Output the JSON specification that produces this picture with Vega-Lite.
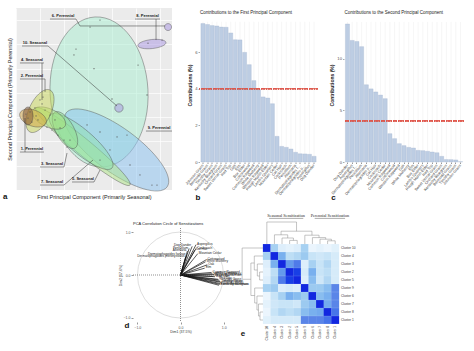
{
  "$schema": "https://vega.github.io/schema/vega-lite/v6.json",
  "padding": {"left": 3, "top": 8, "right": 0, "bottom": 0},
  "background": "white",
  "config": {
    "font": "Liberation Sans",
    "view": {"stroke": null},
    "axis": {"labelFont": "Liberation Sans", "titleFont": "Liberation Sans"},
    "title": {"font": "Liberation Sans"},
    "text": {"font": "Liberation Sans"}
  },
  "datasets": {
    "ellipses": [
      {"group": "6", "pc1": 2.92, "pc2": 2.08},
      {"group": "9", "pc1": 4.38, "pc2": -2.70},
      {"group": "7", "pc1": 1.58, "pc2": -2.42},
      {"group": "5", "pc1": 1.42, "pc2": -2.00},
      {"group": "3", "pc1": 0.08, "pc2": -1.06},
      {"group": "4", "pc1": -1.25, "pc2": -0.07},
      {"group": "2", "pc1": -2.00, "pc2": 0.51},
      {"group": "1", "pc1": -2.58, "pc2": -0.07},
      {"group": "1b", "pc1": -3.00, "pc2": 0.10},
      {"group": "8", "pc1": 7.33, "pc2": 6.03},
      {"group": "8b", "pc1": 8.67, "pc2": 7.43},
      {"group": "10", "pc1": 4.58, "pc2": 0.76}
    ],
    "obs": [
      {"pc1": 3.0, "pc2": 8.01}, {"pc1": 2.17, "pc2": 7.43}, {"pc1": 1.0, "pc2": 5.62}, {"pc1": 0.83, "pc2": 5.13},
      {"pc1": 6.17, "pc2": 4.30}, {"pc1": 6.92, "pc2": 1.83}, {"pc1": 4.42, "pc2": -1.63}, {"pc1": 5.25, "pc2": -1.47},
      {"pc1": 1.92, "pc2": -0.64}, {"pc1": 3.0, "pc2": -1.22}, {"pc1": 6.33, "pc2": -4.76}, {"pc1": 7.33, "pc2": -5.59},
      {"pc1": 7.75, "pc2": -5.59}, {"pc1": 8.17, "pc2": 6.36}, {"pc1": 3.0, "pc2": -3.53}, {"pc1": 0.5, "pc2": -1.88},
      {"pc1": 0.25, "pc2": -2.46}, {"pc1": 5.5, "pc2": -3.94}, {"pc1": 3.83, "pc2": -2.70}, {"pc1": -2.83, "pc2": 0.43},
      {"pc1": -2.42, "pc2": 0.76}, {"pc1": -2.0, "pc2": 1.42}, {"pc1": -1.83, "pc2": 1.09}, {"pc1": -1.58, "pc2": 0.59},
      {"pc1": -1.17, "pc2": 0.18}, {"pc1": -2.17, "pc2": -0.23}, {"pc1": -0.75, "pc2": -0.23}, {"pc1": -3.0, "pc2": -0.07},
      {"pc1": -2.67, "pc2": -0.40}, {"pc1": -1.42, "pc2": -0.81}, {"pc1": -0.33, "pc2": -0.89}, {"pc1": -1.0, "pc2": -1.06},
      {"pc1": -1.75, "pc2": 1.66}, {"pc1": -3.17, "pc2": 0.26}, {"pc1": -2.33, "pc2": 0.10}, {"pc1": -0.5, "pc2": -1.47},
      {"pc1": 0.0, "pc2": -1.88}, {"pc1": 7.0, "pc2": 6.1}, {"pc1": 2.5, "pc2": 4.0}, {"pc1": 4.0, "pc2": 1.5}
    ],
    "leaders": [
      {"ax": -1.17, "ay": 8.09, "bx": 1.0, "by": 8.09}, {"ax": 1.0, "ay": 8.09, "bx": 1.33, "by": 7.52}, {"ax": 1.33, "ay": 7.52, "bx": 8.42, "by": 7.52},
      {"ax": 5.92, "ay": 8.09, "bx": 8.0, "by": 8.09}, {"ax": 7.67, "ay": 8.09, "bx": 7.67, "by": 6.36},
      {"ax": -3.5, "ay": 5.87, "bx": -1.33, "by": 5.87}, {"ax": -1.33, "ay": 5.87, "bx": 4.42, "by": 0.92},
      {"ax": -3.67, "ay": 4.47, "bx": -1.67, "by": 4.47}, {"ax": -1.83, "ay": 4.47, "bx": -1.83, "by": 1.42},
      {"ax": -3.67, "ay": 3.15, "bx": -1.58, "by": 3.15}, {"ax": -1.58, "ay": 3.15, "bx": -1.58, "by": 2.08},
      {"ax": 6.83, "ay": -1.14, "bx": 9.0, "by": -1.14},
      {"ax": -3.67, "ay": -2.87, "bx": -1.67, "by": -2.87}, {"ax": -3.25, "ay": -2.87, "bx": -3.25, "by": -0.07},
      {"ax": -2.0, "ay": -4.10, "bx": 0.0, "by": -4.10}, {"ax": 0.0, "ay": -4.10, "bx": 0.25, "by": -2.95},
      {"ax": -2.0, "ay": -5.59, "bx": 0.0, "by": -5.59}, {"ax": 0.0, "ay": -5.59, "bx": 2.42, "by": -3.53},
      {"ax": 0.67, "ay": -5.34, "bx": 2.5, "by": -5.34}, {"ax": 2.5, "ay": -5.34, "bx": 3.0, "by": -4.35}
    ],
    "clusterLabels": [
      {"label": "6. Perennial", "lx": -0.08, "ly": 8.34},
      {"label": "8. Perennial", "lx": 6.96, "ly": 8.34},
      {"label": "10. Seasonal", "lx": -2.42, "ly": 6.12},
      {"label": "4. Seasonal", "lx": -2.67, "ly": 4.71},
      {"label": "2. Perennial", "lx": -2.67, "ly": 3.40},
      {"label": "9. Perennial", "lx": 7.92, "ly": -0.89},
      {"label": "1. Perennial", "lx": -2.67, "ly": -2.62},
      {"label": "3. Seasonal", "lx": -1.0, "ly": -3.86},
      {"label": "7. Seasonal", "lx": -1.0, "ly": -5.34},
      {"label": "5. Seasonal", "lx": 1.58, "ly": -5.09}
    ],
    "contrib": [
      {"allergen": "Johnson Grass", "pc1": 7.55, "pc2": 0.03, "d1": 0.93, "d2": -0.17},
      {"allergen": "Bermuda Grass", "pc1": 7.50, "pc2": 0.23, "d1": 0.92, "d2": -0.20},
      {"allergen": "Timothy Grass", "pc1": 7.44, "pc2": 0.20, "d1": 0.92, "d2": -0.15},
      {"allergen": "Kentucky Bluegrass", "pc1": 7.42, "pc2": 0.24, "d1": 0.91, "d2": -0.22},
      {"allergen": "Orchard Grass", "pc1": 7.36, "pc2": 0.55, "d1": 0.90, "d2": -0.12},
      {"allergen": "Sweet Vernal Grass", "pc1": 7.35, "pc2": 0.90, "d1": 0.89, "d2": -0.24},
      {"allergen": "Red Top", "pc1": 7.04, "pc2": 0.97, "d1": 0.87, "d2": -0.10},
      {"allergen": "Oak", "pc1": 6.67, "pc2": 1.59, "d1": 0.62, "d2": 0.24},
      {"allergen": "Elm", "pc1": 6.66, "pc2": 1.36, "d1": 0.56, "d2": 0.16},
      {"allergen": "Box Elder", "pc1": 5.98, "pc2": 1.13, "d1": 0.80, "d2": -0.04},
      {"allergen": "Cottonwood", "pc1": 5.31, "pc2": 2.27, "d1": 0.60, "d2": 0.36},
      {"allergen": "Common Ragweed", "pc1": 4.44, "pc2": 2.75, "d1": 0.72, "d2": 0.06},
      {"allergen": "White Mulberry", "pc1": 3.95, "pc2": 1.42, "d1": 0.58, "d2": 0.31},
      {"allergen": "Western Ragweed", "pc1": 3.55, "pc2": 1.78, "d1": 0.78, "d2": 0.01},
      {"allergen": "Rough Marsh Elder", "pc1": 3.49, "pc2": 1.04, "d1": 0.76, "d2": -0.03},
      {"allergen": "Lamb's Quarters", "pc1": 3.18, "pc2": 1.10, "d1": 0.74, "d2": 0.03},
      {"allergen": "Mountain Cedar", "pc1": 1.40, "pc2": 6.15, "d1": 0.40, "d2": 0.50},
      {"allergen": "Cat Hair", "pc1": 0.85, "pc2": 6.80, "d1": 0.33, "d2": 0.58},
      {"allergen": "Cockroach", "pc1": 0.80, "pc2": 6.50, "d1": 0.36, "d2": 0.62},
      {"allergen": "Penicillium", "pc1": 0.71, "pc2": 11.20, "d1": 0.20, "d2": 0.62},
      {"allergen": "Alternaria", "pc1": 0.53, "pc2": 7.50, "d1": 0.16, "d2": 0.56},
      {"allergen": "Dermatophagoides farinae", "pc1": 0.45, "pc2": 11.70, "d1": 0.14, "d2": 0.47},
      {"allergen": "Dermatophagoides pteronyssinus", "pc1": 0.44, "pc2": 7.10, "d1": 0.12, "d2": 0.42},
      {"allergen": "Aspergillus", "pc1": 0.42, "pc2": 11.80, "d1": 0.36, "d2": 0.71},
      {"allergen": "Dog Dander", "pc1": 0.31, "pc2": 13.40, "d1": 0.27, "d2": 0.67}
    ],
    "clusters": [
      {"name": "Cluster 10", "k": 0}, {"name": "Cluster 4", "k": 1}, {"name": "Cluster 3", "k": 2},
      {"name": "Cluster 2", "k": 3}, {"name": "Cluster 5", "k": 4}, {"name": "Cluster 9", "k": 5},
      {"name": "Cluster 6", "k": 6}, {"name": "Cluster 7", "k": 7}, {"name": "Cluster 8", "k": 8},
      {"name": "Cluster 1", "k": 9}
    ],
    "dendro": [
      {"p1": 3, "h1": -0.5, "p2": 3, "h2": -0.95}, {"p1": 4, "h1": -0.5, "p2": 4, "h2": -0.95}, {"p1": 3, "h1": -0.95, "p2": 4, "h2": -0.95},
      {"p1": 2, "h1": -0.5, "p2": 2, "h2": -1.25}, {"p1": 3.5, "h1": -0.95, "p2": 3.5, "h2": -1.25}, {"p1": 2, "h1": -1.25, "p2": 3.5, "h2": -1.25},
      {"p1": 1, "h1": -0.5, "p2": 1, "h2": -1.65}, {"p1": 2.75, "h1": -1.25, "p2": 2.75, "h2": -1.65}, {"p1": 1, "h1": -1.65, "p2": 2.75, "h2": -1.65},
      {"p1": 8, "h1": -0.5, "p2": 8, "h2": -0.9}, {"p1": 9, "h1": -0.5, "p2": 9, "h2": -0.9}, {"p1": 8, "h1": -0.9, "p2": 9, "h2": -0.9},
      {"p1": 7, "h1": -0.5, "p2": 7, "h2": -1.1}, {"p1": 8.5, "h1": -0.9, "p2": 8.5, "h2": -1.1}, {"p1": 7, "h1": -1.1, "p2": 8.5, "h2": -1.1},
      {"p1": 6, "h1": -0.5, "p2": 6, "h2": -1.3}, {"p1": 7.75, "h1": -1.1, "p2": 7.75, "h2": -1.3}, {"p1": 6, "h1": -1.3, "p2": 7.75, "h2": -1.3},
      {"p1": 5, "h1": -0.5, "p2": 5, "h2": -1.6}, {"p1": 6.875, "h1": -1.3, "p2": 6.875, "h2": -1.6}, {"p1": 5, "h1": -1.6, "p2": 6.875, "h2": -1.6},
      {"p1": 1.875, "h1": -1.65, "p2": 1.875, "h2": -2.1}, {"p1": 5.94, "h1": -1.6, "p2": 5.94, "h2": -2.1}, {"p1": 1.875, "h1": -2.1, "p2": 5.94, "h2": -2.1},
      {"p1": 0, "h1": -0.5, "p2": 0, "h2": -3.25}, {"p1": 3.91, "h1": -2.1, "p2": 3.91, "h2": -3.25}, {"p1": 0, "h1": -3.25, "p2": 3.91, "h2": -3.25}
    ],
    "heat": [
      {"i":0,"j":0,"v":1},{"i":0,"j":1,"v":0.45},{"i":0,"j":2,"v":0.15},{"i":0,"j":3,"v":0.1},{"i":0,"j":4,"v":0.15},{"i":0,"j":5,"v":0.45},{"i":0,"j":6,"v":0.05},{"i":0,"j":7,"v":0.1},{"i":0,"j":8,"v":0.05},{"i":0,"j":9,"v":0.12},
      {"i":1,"j":0,"v":0.45},{"i":1,"j":1,"v":1},{"i":1,"j":2,"v":0.6},{"i":1,"j":3,"v":0.35},{"i":1,"j":4,"v":0.4},{"i":1,"j":5,"v":0.5},{"i":1,"j":6,"v":0.3},{"i":1,"j":7,"v":0.25},{"i":1,"j":8,"v":0.3},{"i":1,"j":9,"v":0.2},
      {"i":2,"j":0,"v":0.15},{"i":2,"j":1,"v":0.6},{"i":2,"j":2,"v":1},{"i":2,"j":3,"v":0.68},{"i":2,"j":4,"v":0.78},{"i":2,"j":5,"v":0.15},{"i":2,"j":6,"v":0.45},{"i":2,"j":7,"v":0.3},{"i":2,"j":8,"v":0.4},{"i":2,"j":9,"v":0.2},
      {"i":3,"j":0,"v":0.1},{"i":3,"j":1,"v":0.35},{"i":3,"j":2,"v":0.68},{"i":3,"j":3,"v":1},{"i":3,"j":4,"v":0.95},{"i":3,"j":5,"v":0.2},{"i":3,"j":6,"v":0.6},{"i":3,"j":7,"v":0.3},{"i":3,"j":8,"v":0.35},{"i":3,"j":9,"v":0.2},
      {"i":4,"j":0,"v":0.15},{"i":4,"j":1,"v":0.4},{"i":4,"j":2,"v":0.78},{"i":4,"j":3,"v":0.95},{"i":4,"j":4,"v":1},{"i":4,"j":5,"v":0.15},{"i":4,"j":6,"v":0.55},{"i":4,"j":7,"v":0.25},{"i":4,"j":8,"v":0.4},{"i":4,"j":9,"v":0.2},
      {"i":5,"j":0,"v":0.45},{"i":5,"j":1,"v":0.5},{"i":5,"j":2,"v":0.15},{"i":5,"j":3,"v":0.2},{"i":5,"j":4,"v":0.15},{"i":5,"j":5,"v":1},{"i":5,"j":6,"v":0.5},{"i":5,"j":7,"v":0.5},{"i":5,"j":8,"v":0.55},{"i":5,"j":9,"v":0.75},
      {"i":6,"j":0,"v":0.05},{"i":6,"j":1,"v":0.3},{"i":6,"j":2,"v":0.45},{"i":6,"j":3,"v":0.6},{"i":6,"j":4,"v":0.55},{"i":6,"j":5,"v":0.5},{"i":6,"j":6,"v":1},{"i":6,"j":7,"v":0.55},{"i":6,"j":8,"v":0.6},{"i":6,"j":9,"v":0.75},
      {"i":7,"j":0,"v":0.1},{"i":7,"j":1,"v":0.25},{"i":7,"j":2,"v":0.3},{"i":7,"j":3,"v":0.3},{"i":7,"j":4,"v":0.25},{"i":7,"j":5,"v":0.5},{"i":7,"j":6,"v":0.55},{"i":7,"j":7,"v":1},{"i":7,"j":8,"v":0.62},{"i":7,"j":9,"v":0.75},
      {"i":8,"j":0,"v":0.05},{"i":8,"j":1,"v":0.3},{"i":8,"j":2,"v":0.4},{"i":8,"j":3,"v":0.35},{"i":8,"j":4,"v":0.4},{"i":8,"j":5,"v":0.55},{"i":8,"j":6,"v":0.6},{"i":8,"j":7,"v":0.62},{"i":8,"j":8,"v":1},{"i":8,"j":9,"v":0.8},
      {"i":9,"j":0,"v":0.12},{"i":9,"j":1,"v":0.2},{"i":9,"j":2,"v":0.2},{"i":9,"j":3,"v":0.2},{"i":9,"j":4,"v":0.2},{"i":9,"j":5,"v":0.75},{"i":9,"j":6,"v":0.75},{"i":9,"j":7,"v":0.75},{"i":9,"j":8,"v":0.8},{"i":9,"j":9,"v":1}
    ],
    "sensLabels": [
      {"label": "Seasonal Sensitization", "x": 2.53, "y": -4.0},
      {"label": "Perennial Sensitization", "x": 8.3, "y": -4.0}
    ],
    "sensLines": [
      {"a": 0.3, "b": 4.8, "y": -3.7},
      {"a": 6.3, "b": 10.3, "y": -3.7}
    ]
  },
  "spacing": 12,
  "vconcat": [
    {
      "spacing": 10.5,
      "hconcat": [
        {
          "width": 156,
          "height": 182,
          "view": {"fill": "#ebebeb", "stroke": null},
          "layer": [
            {
              "data": {"name": "ellipses"},
              "mark": {"type": "point", "filled": true, "size": 400, "opacity": 1, "fillOpacity": 0.5, "stroke": "#4a4a4a", "strokeWidth": 0.5, "strokeOpacity": 0.85},
              "encoding": {
                "x": {"field": "pc1", "type": "quantitative", "scale": {"domain": [-4, 9], "nice": false, "zero": false},
                      "axis": {"title": "First Principal Component (Primarily Seasonal)", "labels": false, "ticks": false, "domain": false, "grid": true, "gridColor": "white", "gridWidth": 0.7, "tickCount": 6, "titleFontSize": 5.5, "titleFontWeight": "normal", "titleColor": "#222", "titlePadding": 4}},
                "y": {"field": "pc2", "type": "quantitative", "scale": {"domain": [-6, 9], "nice": false, "zero": false},
                      "axis": {"title": "Second Principal Component (Primarily Perennial)", "labels": false, "ticks": false, "domain": false, "grid": true, "gridColor": "white", "gridWidth": 0.7, "tickCount": 6, "titleFontSize": 5.5, "titleFontWeight": "normal", "titleColor": "#222", "titlePadding": 4}},
                "shape": {"field": "group", "type": "nominal", "legend": null, "scale": {
                  "domain": ["6", "9", "7", "5", "3", "4", "2", "1", "1b", "8", "8b", "10"],
                  "range": [
                    "M0.4,7.5C3.1,7.36,5.11,3.88,4.89,-0.26C4.67,-4.4,2.3,-7.64,-0.4,-7.5C-3.1,-7.36,-5.11,-3.88,-4.89,0.26C-4.67,4.4,-2.3,7.64,0.4,7.5Z",
                    "M5.05,3.7C4.33,4.68,1.49,3.82,-1.3,1.78C-4.09,-0.27,-5.77,-2.72,-5.05,-3.7C-4.33,-4.68,-1.49,-3.82,1.3,-1.78C4.09,0.27,5.77,2.72,5.05,3.7Z",
                    "M4.7,3.85C4.42,4.19,2.09,2.74,-0.51,0.62C-3.1,-1.51,-4.98,-3.51,-4.7,-3.85C-4.42,-4.19,-2.09,-2.74,0.51,-0.62C3.1,1.51,4.98,3.51,4.7,3.85Z",
                    "M3.1,2.65C2.67,3.15,0.93,2.38,-0.78,0.91C-2.49,-0.55,-3.53,-2.15,-3.1,-2.65C-2.67,-3.15,-0.93,-2.38,0.78,-0.91C2.49,0.55,3.53,2.15,3.1,2.65Z",
                    "M1,1.8C0.57,2.04,-0.24,1.43,-0.79,0.44C-1.34,-0.56,-1.44,-1.56,-1,-1.8C-0.57,-2.04,0.24,-1.43,0.79,-0.44C1.34,0.56,1.44,1.56,1,1.8Z",
                    "M1.63,0.76C1.42,1.21,0.52,1.24,-0.38,0.82C-1.28,0.4,-1.84,-0.31,-1.63,-0.76C-1.42,-1.21,-0.52,-1.24,0.38,-0.82C1.28,-0.4,1.84,0.31,1.63,0.76Z",
                    "M1,-2.1C1.55,-1.84,1.54,-0.69,0.99,0.47C0.44,1.63,-0.45,2.36,-1,2.1C-1.55,1.84,-1.54,0.69,-0.99,-0.47C-0.44,-1.63,0.45,-2.36,1,-2.1Z",
                    "M1.31,0.5C1.15,0.91,0.44,1.02,-0.29,0.75C-1.01,0.47,-1.47,-0.09,-1.31,-0.5C-1.15,-0.91,-0.44,-1.02,0.29,-0.75C1.01,-0.47,1.47,0.09,1.31,0.5Z",
                    "M0,0.9C0.28,0.9,0.5,0.5,0.5,0C0.5,-0.5,0.28,-0.9,0,-0.9C-0.28,-0.9,-0.5,-0.5,-0.5,0C-0.5,0.5,-0.28,0.9,0,0.9Z",
                    "M1.4,-0.15C1.43,0.1,0.82,0.36,0.05,0.45C-0.73,0.53,-1.37,0.4,-1.4,0.15C-1.43,-0.1,-0.82,-0.36,-0.05,-0.45C0.73,-0.53,1.37,-0.4,1.4,-0.15Z",
                    "M0.35,0C0.35,0.19,0.19,0.35,0,0.35C-0.19,0.35,-0.35,0.19,-0.35,0C-0.35,-0.19,-0.19,-0.35,0,-0.35C0.19,-0.35,0.35,-0.19,0.35,0Z",
                    "M0.42,0C0.42,0.23,0.23,0.42,0,0.42C-0.23,0.42,-0.42,0.23,-0.42,0C-0.42,-0.23,-0.23,-0.42,0,-0.42C0.23,-0.42,0.42,-0.23,0.42,0Z"
                  ]}},
                "fill": {"field": "group", "type": "nominal", "legend": null, "scale": {
                  "domain": ["6", "9", "7", "5", "3", "4", "2", "1", "1b", "8", "8b", "10"],
                  "range": ["#a7edcf", "#87c1f1", "#ade585", "#8fe1af", "#91dd91", "#a7df7b", "#c8d655", "#d4a440", "#7a5030", "#a793e1", "#a793e1", "#a793e1"]}}
              }
            },
            {
              "data": {"name": "obs"},
              "mark": {"type": "circle", "size": 1.6, "color": "#555", "opacity": 0.9},
              "encoding": {
                "x": {"field": "pc1", "type": "quantitative"},
                "y": {"field": "pc2", "type": "quantitative"}
              }
            },
            {
              "data": {"name": "leaders"},
              "mark": {"type": "rule", "color": "#333", "strokeWidth": 0.5},
              "encoding": {
                "x": {"field": "ax", "type": "quantitative"},
                "y": {"field": "ay", "type": "quantitative"},
                "x2": {"field": "bx"},
                "y2": {"field": "by"}
              }
            },
            {
              "data": {"name": "clusterLabels"},
              "mark": {"type": "text", "fontSize": 4, "fontWeight": "bold", "color": "#222"},
              "encoding": {
                "x": {"field": "lx", "type": "quantitative"},
                "y": {"field": "ly", "type": "quantitative"},
                "text": {"field": "label", "type": "nominal"}
              }
            },
            {
              "data": {"values": [{"t": "a"}]},
              "mark": {"type": "text", "fontSize": 8, "fontWeight": "bold", "align": "left", "color": "#111"},
              "encoding": {
                "x": {"datum": -5.08, "type": "quantitative"},
                "y": {"datum": -6.58, "type": "quantitative"},
                "text": {"field": "t", "type": "nominal"}
              }
            }
          ]
        },
        {
          "width": 118,
          "height": 154,
          "data": {"name": "contrib"},
          "encoding": {
            "x": {"field": "allergen", "type": "nominal",
                  "sort": ["Johnson Grass", "Bermuda Grass", "Timothy Grass", "Kentucky Bluegrass", "Orchard Grass", "Sweet Vernal Grass", "Red Top", "Oak", "Elm", "Box Elder", "Cottonwood", "Common Ragweed", "White Mulberry", "Western Ragweed", "Rough Marsh Elder", "Lamb's Quarters", "Mountain Cedar", "Cat Hair", "Cockroach", "Penicillium", "Alternaria", "Dermatophagoides farinae", "Dermatophagoides pteronyssinus", "Aspergillus", "Dog Dander"],
                  "scale": {"paddingInner": 0.12, "paddingOuter": 0.3},
                  "axis": {"title": null, "labelAngle": -50, "labelFontSize": 3.8, "labelColor": "#444", "labelLimit": 40, "tickSize": 1.5, "tickColor": "#999", "domain": false, "grid": false, "labelPadding": 1}}
          },
          "layer": [
            {
              "mark": {"type": "rule", "color": "#ececec", "strokeWidth": 0.5},
              "encoding": {"y": {"datum": 0, "type": "quantitative"}, "y2": {"datum": 7.65}}
            },
            {
              "mark": {"type": "bar", "fill": "#bdcde3", "stroke": "#9fb2cc", "strokeWidth": 0.3},
              "encoding": {
                "y": {"field": "pc1", "type": "quantitative", "scale": {"domain": [0, 8.4], "nice": false},
                      "axis": {"title": "Contributions (%)", "values": [0, 2, 4, 6], "titleFontSize": 5, "titleFontWeight": "bold", "titleColor": "#222", "titlePadding": 2, "labelFontSize": 4.2, "labelColor": "#555", "labelPadding": 1, "tickSize": 1.5, "tickColor": "#aaa", "domain": false, "gridColor": "#e6e6e6", "gridWidth": 0.5}}
              }
            },
            {
              "mark": {"type": "rule", "color": "#e05a50", "strokeDash": [1.2, 1.2], "strokeWidth": 0.6},
              "encoding": {"x": null, "y": {"datum": 4, "type": "quantitative"}}
            },
            {
              "data": {"values": [{"allergen": "Johnson Grass", "t": "Contributions to the First Principal Component"}]},
              "mark": {"type": "text", "fontSize": 4.5, "color": "#222", "align": "left", "dx": -3},
              "encoding": {"y": {"datum": 8.13, "type": "quantitative"}, "text": {"field": "t", "type": "nominal"}}
            },
            {
              "data": {"values": [{"allergen": "Johnson Grass", "t": "b"}]},
              "mark": {"type": "text", "fontSize": 8, "fontWeight": "bold", "color": "#111", "dx": -5, "dy": 36},
              "encoding": {"y": {"datum": 0, "type": "quantitative"}, "text": {"field": "t", "type": "nominal"}}
            }
          ]
        },
        {
          "width": 120,
          "height": 154,
          "data": {"name": "contrib"},
          "encoding": {
            "x": {"field": "allergen", "type": "nominal",
                  "sort": ["Dog Dander", "Aspergillus", "Dermatophagoides farinae", "Penicillium", "Alternaria", "Dermatophagoides pteronyssinus", "Cat Hair", "Cockroach", "Mountain Cedar", "Common Ragweed", "Cottonwood", "Western Ragweed", "Oak", "White Mulberry", "Elm", "Box Elder", "Lamb's Quarters", "Rough Marsh Elder", "Red Top", "Sweet Vernal Grass", "Orchard Grass", "Kentucky Bluegrass", "Bermuda Grass", "Timothy Grass", "Johnson Grass"],
                  "scale": {"paddingInner": 0.12, "paddingOuter": 0.3},
                  "axis": {"title": null, "labelAngle": -50, "labelFontSize": 3.8, "labelColor": "#444", "labelLimit": 40, "tickSize": 1.5, "tickColor": "#999", "domain": false, "grid": false, "labelPadding": 1}}
          },
          "layer": [
            {
              "mark": {"type": "rule", "color": "#ececec", "strokeWidth": 0.5},
              "encoding": {"y": {"datum": 0, "type": "quantitative"}, "y2": {"datum": 13.6}}
            },
            {
              "mark": {"type": "bar", "fill": "#bdcde3", "stroke": "#9fb2cc", "strokeWidth": 0.3},
              "encoding": {
                "y": {"field": "pc2", "type": "quantitative", "scale": {"domain": [0, 14.95], "nice": false},
                      "axis": {"title": "Contributions (%)", "values": [0, 5, 10], "titleFontSize": 5, "titleFontWeight": "bold", "titleColor": "#222", "titlePadding": 2, "labelFontSize": 4.2, "labelColor": "#555", "labelPadding": 1, "tickSize": 1.5, "tickColor": "#aaa", "domain": false, "gridColor": "#e6e6e6", "gridWidth": 0.5}}
              }
            },
            {
              "mark": {"type": "rule", "color": "#e05a50", "strokeDash": [1.2, 1.2], "strokeWidth": 0.6},
              "encoding": {"x": null, "y": {"datum": 4, "type": "quantitative"}}
            },
            {
              "data": {"values": [{"allergen": "Dog Dander", "t": "Contributions to the Second Principal Component"}]},
              "mark": {"type": "text", "fontSize": 4.5, "color": "#222", "align": "left", "dx": -3},
              "encoding": {"y": {"datum": 14.47, "type": "quantitative"}, "text": {"field": "t", "type": "nominal"}}
            },
            {
              "data": {"values": [{"allergen": "Dog Dander", "t": "c"}]},
              "mark": {"type": "text", "fontSize": 8, "fontWeight": "bold", "color": "#111", "dx": -14, "dy": 36},
              "encoding": {"y": {"datum": 0, "type": "quantitative"}, "text": {"field": "t", "type": "nominal"}}
            }
          ]
        }
      ]
    },
    {
      "spacing": 13,
      "bounds": "flush",
      "hconcat": [
        {
          "width": 104,
          "height": 20,
          "data": {"values": [{"t": ""}]},
          "mark": {"type": "text"},
          "encoding": {"text": {"field": "t", "type": "nominal"}}
        },
        {
          "width": 95,
          "height": 94,
          "title": {"text": "PCA Correlation Circle of Sensitizations", "fontSize": 4, "fontWeight": "normal", "anchor": "start", "frame": "group", "offset": 2, "color": "#222"},
          "data": {"name": "contrib"},
          "layer": [
            {
              "mark": {"type": "rule", "color": "#111", "strokeWidth": 0.7},
              "encoding": {
                "x": {"field": "d1", "type": "quantitative", "scale": {"domain": [-1.1, 1.1], "nice": false, "zero": false},
                      "axis": {"title": "Dim1 (37.5%)", "values": [-1, -0.5, 0, 0.5, 1], "format": ".1f", "labelFontSize": 3.5, "labelColor": "#555", "titleFontSize": 3.5, "titleFontWeight": "normal", "titleColor": "#333", "titlePadding": 1, "labelPadding": 1, "grid": false, "domain": false, "tickSize": 2, "tickColor": "#999"}},
                "y": {"field": "d2", "type": "quantitative", "scale": {"domain": [-1.1, 1.1], "nice": false, "zero": false},
                      "axis": {"title": "Dim2 (17.6%)", "values": [-1, -0.5, 0, 0.5, 1], "format": ".1f", "labelFontSize": 3.5, "labelColor": "#555", "titleFontSize": 3.5, "titleFontWeight": "normal", "titleColor": "#333", "titlePadding": 1, "labelPadding": 1, "grid": false, "domain": false, "tickSize": 2, "tickColor": "#999"}},
                "x2": {"datum": 0},
                "y2": {"datum": 0}
              }
            },
            {
              "transform": [{"filter": "datum.d1 < 0.3 && datum.d2 > 0.4"}],
              "mark": {"type": "text", "fontSize": 3.2, "color": "#222", "align": "right", "dx": -1, "dy": -1},
              "encoding": {
                "x": {"field": "d1", "type": "quantitative"},
                "y": {"field": "d2", "type": "quantitative"},
                "text": {"field": "allergen", "type": "nominal"}
              }
            },
            {
              "transform": [{"filter": "!(datum.d1 < 0.3 && datum.d2 > 0.4)"}],
              "mark": {"type": "text", "fontSize": 3.2, "color": "#222", "align": "left", "dx": 1, "dy": -1},
              "encoding": {
                "x": {"field": "d1", "type": "quantitative"},
                "y": {"field": "d2", "type": "quantitative"},
                "text": {"field": "allergen", "type": "nominal"}
              }
            },
            {
              "data": {"values": [{"cx": 0, "cy": 0}]},
              "layer": [
                {
                  "mark": {"type": "point", "shape": "circle", "size": 7396, "filled": false, "stroke": "#c8c8c8", "strokeWidth": 0.6, "opacity": 1},
                  "encoding": {"x": {"field": "cx", "type": "quantitative"}, "y": {"field": "cy", "type": "quantitative"}}
                },
                {
                  "mark": {"type": "rule", "color": "#444", "strokeDash": [1, 1], "strokeWidth": 0.6},
                  "encoding": {"x": {"field": "cx", "type": "quantitative"}}
                },
                {
                  "mark": {"type": "rule", "color": "#444", "strokeDash": [1, 1], "strokeWidth": 0.6},
                  "encoding": {"y": {"field": "cy", "type": "quantitative"}}
                },
                {
                  "mark": {"type": "text", "fontSize": 8, "fontWeight": "bold", "color": "#111"},
                  "encoding": {"x": {"datum": -1.24, "type": "quantitative"}, "y": {"datum": -1.2, "type": "quantitative"}, "text": {"value": "d"}}
                }
              ]
            }
          ]
        },
        {
          "width": 98,
          "height": 96,
          "layer": [
            {
              "data": {"name": "heat"},
              "mark": {"type": "square", "size": 62, "filled": true, "opacity": 1},
              "encoding": {
                "x": {"field": "j", "type": "quantitative", "scale": {"domain": [-3.4, 9.5], "nice": false, "zero": false}, "axis": null},
                "y": {"field": "i", "type": "quantitative", "scale": {"domain": [-2.5, 9.5], "nice": false, "zero": false, "reverse": true}, "axis": null},
                "color": {"field": "v", "type": "quantitative", "legend": null,
                          "scale": {"domain": [0, 0.3, 0.5, 0.75, 1], "range": ["#f2f9fe", "#c8e4f7", "#9ccaf0", "#5a85e8", "#1228e0"]}}
              }
            },
            {
              "data": {"name": "dendro"},
              "mark": {"type": "rule", "color": "#8a8a8a", "strokeWidth": 0.5},
              "encoding": {
                "x": {"field": "p1", "type": "quantitative"},
                "y": {"field": "h1", "type": "quantitative"},
                "x2": {"field": "p2"},
                "y2": {"field": "h2"}
              }
            },
            {
              "data": {"name": "dendro"},
              "mark": {"type": "rule", "color": "#8a8a8a", "strokeWidth": 0.5},
              "encoding": {
                "x": {"field": "h1", "type": "quantitative"},
                "y": {"field": "p1", "type": "quantitative"},
                "x2": {"field": "h2"},
                "y2": {"field": "p2"}
              }
            },
            {
              "data": {"name": "clusters"},
              "mark": {"type": "text", "fontSize": 3.2, "color": "#333", "align": "left"},
              "encoding": {
                "x": {"datum": 9.75, "type": "quantitative"},
                "y": {"field": "k", "type": "quantitative"},
                "text": {"field": "name", "type": "nominal"}
              }
            },
            {
              "data": {"name": "clusters"},
              "mark": {"type": "text", "fontSize": 3.2, "color": "#333", "align": "right", "angle": 270},
              "encoding": {
                "x": {"field": "k", "type": "quantitative"},
                "y": {"datum": 9.75, "type": "quantitative"},
                "text": {"field": "name", "type": "nominal"}
              }
            },
            {
              "data": {"name": "sensLabels"},
              "mark": {"type": "text", "font": "Liberation Serif", "fontSize": 4.2, "color": "#222"},
              "encoding": {
                "x": {"field": "x", "type": "quantitative"},
                "y": {"field": "y", "type": "quantitative"},
                "text": {"field": "label", "type": "nominal"}
              }
            },
            {
              "data": {"name": "sensLines"},
              "mark": {"type": "rule", "color": "#333", "strokeWidth": 0.4},
              "encoding": {
                "x": {"field": "a", "type": "quantitative"},
                "x2": {"field": "b"},
                "y": {"field": "y", "type": "quantitative"}
              }
            },
            {
              "data": {"values": [{"t": "e"}]},
              "mark": {"type": "text", "fontSize": 8, "fontWeight": "bold", "color": "#111"},
              "encoding": {"x": {"datum": -3.13, "type": "quantitative"}, "y": {"datum": 10.75, "type": "quantitative"}, "text": {"field": "t", "type": "nominal"}}
            }
          ]
        }
      ]
    }
  ]
}
